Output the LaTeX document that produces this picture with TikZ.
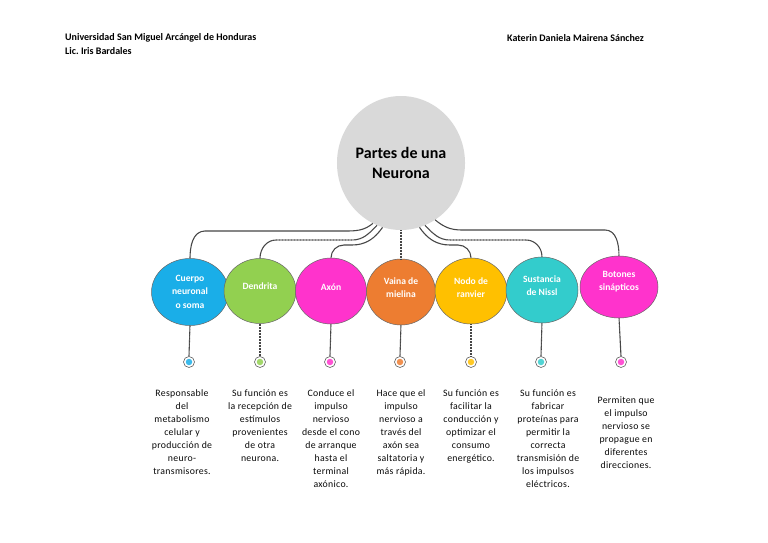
\documentclass[tikz,border=0pt]{standalone}
\usepackage{fontspec}
\setmainfont{Carlito}
\newfontfamily\descfont[LetterSpace=3]{Carlito}
\usetikzlibrary{shapes.geometric}
\definecolor{cuerpoC}{RGB}{26,174,232}
\definecolor{dendC}{RGB}{146,208,80}
\definecolor{axonC}{RGB}{255,51,204}
\definecolor{vainaC}{RGB}{237,125,49}
\definecolor{nodoC}{RGB}{255,192,0}
\definecolor{nisslC}{RGB}{51,204,204}
\definecolor{botonC}{RGB}{255,51,204}
\definecolor{centC}{RGB}{217,217,217}
\definecolor{lineC}{RGB}{70,70,70}
\definecolor{textC}{RGB}{10,10,10}
\tikzset{
  part/.style={ellipse,draw=gray!80!black,line width=0.5pt,inner sep=0pt},
  ptext/.style={text=white,font=\fontsize{9.6}{13.5}\selectfont\bfseries,align=center,inner sep=0pt},
  conn/.style={draw=lineC,line width=1.1pt,dash pattern=on 1.2pt off 0.3pt},
  ring/.style={circle,draw=gray!75!black,fill=white,line width=0.6pt,minimum size=11pt,inner sep=0pt},
  dot/.style={circle,inner sep=0pt,minimum size=6.5pt},
  desc/.style={anchor=north,align=center,text=textC,font=\descfont\fontsize{9.8}{13}\selectfont},
  hdr/.style={anchor=west,font=\fontsize{10}{12.5}\selectfont\bfseries,align=left,inner sep=0pt}
}
\begin{document}
\begin{tikzpicture}[x=1pt,y=1pt]
\useasboundingbox[fill=white] (0,0) rectangle (768,-543);
% headers
\node[hdr] (h1) at (65,-38) {Universidad San Miguel Arcángel de Honduras};
\node[hdr] (h2) at (65,-51) {Lic.\ Iris Bardales};
\node[hdr] (h3) at (507,-38) {Katerin Daniela Mairena Sánchez};
% central
\node[ellipse,fill=centC,minimum width=120pt,minimum height=134pt,inner sep=0pt,
  font=\fontsize{16}{20}\selectfont\bfseries,align=center] (c) at (401,-163) {Partes de una\\Neurona};
% parts
\node[part,fill=cuerpoC,minimum width=77pt,minimum height=67pt] (cuerpo) at (190,-292) {};
\node[part,fill=dendC,minimum width=72pt,minimum height=65pt] (dend) at (260,-291) {};
\node[part,fill=axonC,minimum width=71pt,minimum height=66pt] (axon) at (331,-291) {};
\node[part,fill=vainaC,minimum width=69pt,minimum height=66pt] (vaina) at (401,-292) {};
\node[part,fill=nodoC,minimum width=72pt,minimum height=66pt] (nodo) at (471,-291) {};
\node[part,fill=nisslC,minimum width=72pt,minimum height=66pt] (nissl) at (542,-290) {};
\node[part,fill=botonC,minimum width=78pt,minimum height=62pt] (boton) at (619,-287) {};
\node[ptext] (cuerpo t) at (190,-291.5) {Cuerpo\\neuronal\\o soma};
\node[ptext] (dend t) at (260,-286) {Dendrita};
\node[ptext] (axon t) at (331,-287) {Axón};
\node[ptext] (vaina t) at (401,-287.5) {Vaina de\\mielina};
\node[ptext] (nodo t) at (471,-287.5) {Nodo de\\ranvier};
\node[ptext] (nissl t) at (542,-285.5) {Sustancia\\de Nissl};
\node[ptext] (boton t) at (619,-281.5) {Botones\\sinápticos};
% connectors from center
\draw[conn] (c.245) to[out=220,in=0] (345,-231) -- (205,-231) to[out=180,in=90] (cuerpo.north);
\draw[conn] (c.249) to[out=225,in=0] (352,-240) -- (276,-240) to[out=180,in=90] (dend.north);
\draw[conn] (c.254) to[out=235,in=0] (352,-245) -- (344,-245) to[out=180,in=90] (axon.north);
\draw[conn] (c.south) -- (vaina.north);
\draw[conn] (c.286) to[out=305,in=180] (450,-245) -- (458,-245) to[out=0,in=90] (nodo.north);
\draw[conn] (c.291) to[out=315,in=180] (450,-240) -- (526,-240) to[out=0,in=90] (nissl.north);
\draw[conn] (c.301) to[out=320,in=180] (462,-230) -- (605,-230) to[out=0,in=90] (boton.north);
% rings
\foreach \n/\x/\col in {r1/189/cuerpoC,r2/260/dendC,r3/330/axonC,r4/400/vainaC,r5/471/nodoC,r6/541/nisslC,r7/621/botonC}{
  \node[ring] (\n) at (\x,-362) {};
  \node[dot,fill=\col!85!white] (\n d) at (\x,-362) {};
}
\draw[conn] (cuerpo.south) -- (r1.north);
\draw[conn] (dend.south) -- (r2.north);
\draw[conn] (axon.south) -- (r3.north);
\draw[conn] (vaina.south) -- (r4.north);
\draw[conn] (nodo.south) -- (r5.north);
\draw[conn] (nissl.south) -- (r6.north);
\draw[conn] (boton.south) -- (r7.north);
% descriptions
\node[desc] (d1) at (182,-386) {Responsable\\del\\metabolismo\\celular y\\producción de\\neuro-\\transmisores.};
\node[desc] (d2) at (260,-386) {Su función es\\la recepción de\\estímulos\\provenientes\\de otra\\neurona.};
\node[desc] (d3) at (331,-386) {Conduce el\\impulso\\nervioso\\desde el cono\\de arranque\\hasta el\\terminal\\axónico.};
\node[desc] (d4) at (401,-386) {Hace que el\\impulso\\nervioso a\\través del\\axón sea\\saltatoria y\\más rápida.};
\node[desc] (d5) at (471,-386) {Su función es\\facilitar la\\conducción y\\optimizar el\\consumo\\energético.};
\node[desc] (d6) at (548,-386) {Su función es\\fabricar\\proteínas para\\permitir la\\correcta\\transmisión de\\los impulsos\\eléctricos.};
\node[desc] (d7) at (626,-393) {Permiten que\\el impulso\\nervioso se\\propague en\\diferentes\\direcciones.};
\end{tikzpicture}
\end{document}
